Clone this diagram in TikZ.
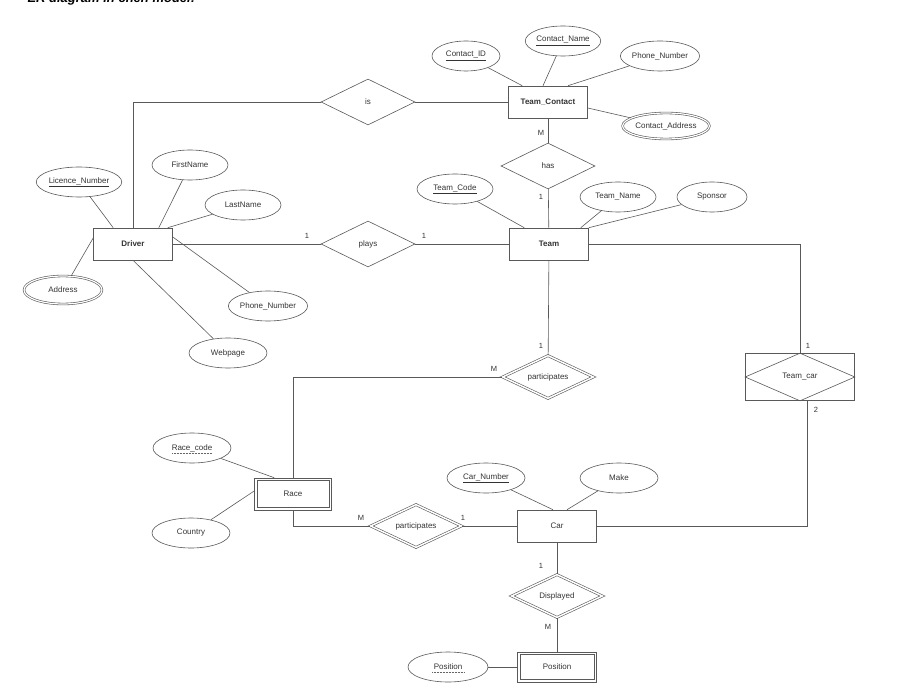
\documentclass[tikz,border=0pt]{standalone}
\usepackage{fontspec}
\setmainfont{Liberation Sans}
\usetikzlibrary{shapes.geometric}
\begin{document}
\begin{tikzpicture}[x=1pt,y=-1pt,
  every node/.style={font=\fontsize{8}{9.5}\selectfont, text=black!80},
  ln/.style={draw=black!65, line width=0.6pt},
  ent/.style={ln, rectangle, minimum width=79pt, minimum height=32pt, inner sep=0pt},
  att/.style={ln, ellipse, minimum width=76pt, minimum height=30pt, inner sep=0pt},
  matt/.style={att, double, double distance=1.2pt},
  rel/.style={ln, diamond, aspect=2, minimum width=94pt, minimum height=46pt, inner sep=0pt},
  wrel/.style={rel, double, double distance=1.5pt, minimum width=91pt, minimum height=43pt},
  card/.style={font=\fontsize{7.5}{8}\selectfont}]
\useasboundingbox (0,0) rectangle (901,692);
\node[anchor=west, font=\bfseries\itshape\fontsize{13}{15}\selectfont, text=black] (title) at (24,-1) {ER diagram in chen model:};

% Team contact
\node[ent, font=\bfseries\fontsize{8}{9.5}\selectfont] (tc) at (548,102) {Team\_Contact};
\node[att, minimum width=68pt] (cid) at (466,56) {\underline{Contact\_ID}};
\node[att, minimum width=72pt] (cname) at (563,41) {\underline{Contact\_Name}};
\node[att, minimum width=78pt] (cph) at (660,56) {Phone\_Number};
\node[matt, minimum width=76pt, minimum height=26pt] (cadd) at (666,126) {Contact\_Address};
\node[rel] (is) at (368,102) {is};
\node[rel] (has) at (548,166) {has};

% Team
\node[ent, font=\bfseries\fontsize{8}{9.5}\selectfont] (team) at (549,244) {Team};
\node[att] (tcode) at (455,189) {\underline{Team\_Code}};
\node[att] (tname) at (618,197) {Team\_Name};
\node[att, minimum width=70pt] (spon) at (712,197) {Sponsor};
\node[rel] (plays) at (368,244) {plays};

% Driver
\node[ent, font=\bfseries\fontsize{8}{9.5}\selectfont] (drv) at (133,244) {Driver};
\node[att] (lic) at (79,182) {\underline{Licence\_Number}};
\node[att] (fn) at (190,165) {FirstName};
\node[att] (lnm) at (243,205) {LastName};
\node[matt, minimum width=78pt, minimum height=28pt] (addr) at (63,290) {Address};
\node[att] (dph) at (268,306) {Phone\_Number};
\node[att, minimum width=78pt] (web) at (228,353) {Webpage};

% Participates / Race
\node[wrel] (p1) at (548,377) {participates};
\node[ent, minimum width=77pt] (race) at (293,494) {Race};
\draw[ln] ([shift={(3,3)}]race.north west) rectangle ([shift={(-3,-3)}]race.south east);
\node[att, minimum width=78pt] (rcode) at (192,448) {Race\_code};
\node[att, minimum width=78pt] (ctry) at (191,533) {Country};
\node[wrel] (p2) at (416,526) {participates};

% Car
\node[ent] (car) at (557,526) {Car};
\node[att, minimum width=78pt] (cnum) at (486,478) {\underline{Car\_Number}};
\node[att, minimum width=78pt] (make) at (619,478) {Make};

% Team car
\node[ln, rectangle, minimum width=109pt, minimum height=47pt, inner sep=0pt] (tcar) at (800,377) {Team\_car};
\draw[ln] (tcar.west) -- (tcar.north) -- (tcar.east) -- (tcar.south) -- cycle;

% Displayed / Position
\node[wrel] (disp) at (557,596) {Displayed};
\node[ent, minimum height=30pt] (pos) at (557,667) {Position};
\draw[ln] ([shift={(3,3)}]pos.north west) rectangle ([shift={(-3,-3)}]pos.south east);
\node[att, minimum width=80pt] (patt) at (448,667) {Position};

% dotted underlines
\draw[black!60, densely dotted, line width=0.5pt] ([xshift=-20pt,yshift=-5pt]rcode.center) -- ([xshift=20pt,yshift=-5pt]rcode.center);
\draw[black!60, densely dotted, line width=0.5pt] ([xshift=-16pt,yshift=-5pt]patt.center) -- ([xshift=16pt,yshift=-5pt]patt.center);

% connectors
\draw[ln] (cid) -- ([xshift=14pt]tc.north west);
\draw[ln] (cname) -- ([xshift=-5pt]tc.north);
\draw[ln] (cph) -- ([xshift=20pt]tc.north);
\draw[ln] ([yshift=-6pt]tc.east) -- (cadd);
\draw[ln] (is) -- (tc);
\draw[ln] (drv.north) |- (is.west);
\draw[ln] (tc) -- (has);
\draw[ln] (has) -- (team);
\draw[ln] (tcode) -- ([xshift=15pt]team.north west);
\draw[ln] (tname) -- ([xshift=-8pt]team.north east);
\draw[ln] (spon) -- (team.north east);
\draw[ln] (drv) -- (plays) -- (team);
\draw[ln] (lic) -- ([xshift=20pt]drv.north west);
\draw[ln] (fn) -- ([xshift=-14pt]drv.north east);
\draw[ln] (lnm) -- ([xshift=-5pt]drv.north east);
\draw[ln] ([yshift=6pt]drv.west) -- (addr);
\draw[ln] ([yshift=7pt]drv.east) -- (dph);
\draw[ln] (drv.south) -- (web);
\draw[ln] (team) -- (p1);
\draw[ln] (p1.west) -| (race.north);
\draw[ln] (rcode) -- ([xshift=20pt]race.north west);
\draw[ln] (ctry) -- ([yshift=3pt]race.west);
\draw[ln] (race.south) |- (p2.west);
\draw[ln] (p2) -- (car);
\draw[ln] (cnum) -- ([xshift=-4pt]car.north);
\draw[ln] (make) -- ([xshift=10pt]car.north);
\draw[ln] (team.east) -| (tcar.north);
\coordinate (tcb) at (807,400);
\draw[ln] (car.east) -| (tcb);
\draw[ln] (car) -- (disp) -- (pos);
\draw[ln] (patt) -- (pos);

% cardinalities
\node[card] at (541,133) {M};
\node[card] at (541,197) {1};
\node[card] at (307,236) {1};
\node[card] at (424,236) {1};
\node[card] at (541,346) {1};
\node[card] at (494,369) {M};
\node[card] at (808,346) {1};
\node[card] at (816,410) {2};
\node[card] at (361,518) {M};
\node[card] at (463,518) {1};
\node[card] at (541,566) {1};
\node[card] at (548,627) {M};
\end{tikzpicture}
\end{document}
